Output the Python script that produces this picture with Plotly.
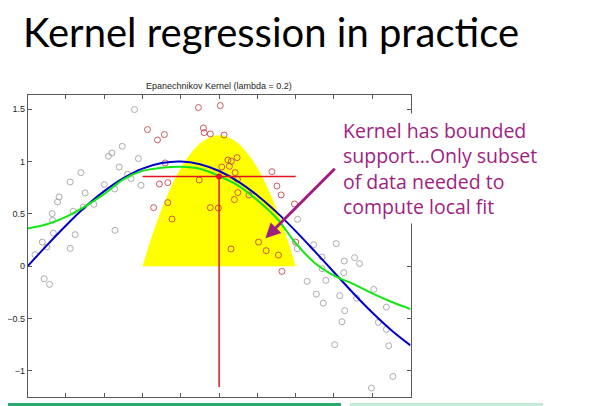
import plotly.graph_objects as go

# ---- data ----
gray_x = [0.019, 0.038, 0.05, 0.043, 0.057, 0.064, 0.065, 0.067, 0.078, 0.082, 0.111, 0.111,
          0.119, 0.124, 0.139, 0.145, 0.15, 0.173, 0.2, 0.211, 0.22, 0.227, 0.228, 0.239,
          0.247, 0.261, 0.27, 0.279, 0.289, 0.296,
          0.705, 0.704, 0.747, 0.806, 0.769, 0.769, 0.827, 0.854, 0.867, 0.826, 0.73, 0.779,
          0.754, 0.772, 0.815, 0.859, 0.904, 0.828, 0.821, 0.937, 0.916, 0.937, 0.943, 0.802,
          0.954, 0.898]
gray_y = [0.11, 0.23, 0.183, -0.12, -0.174, 0.502, 0.438, 0.316, 0.613, 0.661, 0.804, 0.17,
          0.524, 0.301, 0.894, 0.565, 0.699, 0.591, 0.779, 1.05, 1.081, 0.737, 0.342, 0.947,
          1.145, 0.878, 0.836, 1.496, 1.028, 0.772,
          0.447, 0.167, 0.205, 0.215, 0.087, -0.024, 0.049, 0.081, 0.024, -0.062, -0.145, -0.136,
          -0.267, -0.353, -0.282, -0.305, -0.222, -0.425, -0.531, -0.391, -0.537, -0.604, -0.76, -0.75,
          -1.054, -1.165]

red_x = [0.313, 0.339, 0.357, 0.329, 0.344, 0.366, 0.359, 0.366, 0.377, 0.446, 0.503, 0.459,
         0.461, 0.477, 0.513, 0.448, 0.477, 0.498, 0.507, 0.523, 0.532, 0.547, 0.527, 0.542,
         0.548, 0.549, 0.54, 0.578, 0.531, 0.603, 0.623, 0.655, 0.664, 0.638, 0.651, 0.662,
         0.697, 0.70]
red_y = [1.305, 1.206, 1.257, 0.559, 0.785, 0.798, 0.986, 0.607, 0.45, 1.515, 1.534, 1.32,
         1.276, 1.263, 1.253, 0.823, 0.559, 0.555, 0.948, 1.014, 1.002, 1.037, 0.954, 0.894,
         0.83, 0.703, 0.636, 0.68, 0.164, 0.23, 0.148, 0.106, -0.05, 0.903, 0.766, 0.68,
         0.594, 0.23]

curve_x = [0.0, 0.05, 0.1, 0.15, 0.2, 0.25, 0.3, 0.35, 0.4, 0.45, 0.5, 0.55, 0.6, 0.65,
           0.7, 0.75, 0.8, 0.85, 0.9, 0.95, 1.0]
true_y = [0.0, 0.199, 0.389, 0.565, 0.717, 0.841, 0.932, 0.985, 1.0, 0.974, 0.909, 0.808,
          0.675, 0.516, 0.335, 0.141, -0.058, -0.256, -0.443, -0.612, -0.757]
fit_y = [0.36, 0.40, 0.47, 0.57, 0.69, 0.83, 0.91, 0.94, 0.95, 0.93, 0.86, 0.77,
         0.63, 0.46, 0.22, 0.03, -0.09, -0.17, -0.26, -0.34, -0.41]

kernel_x = [0.3, 0.325, 0.35, 0.375, 0.4, 0.425, 0.45, 0.475, 0.5, 0.525, 0.55, 0.575,
            0.6, 0.625, 0.65, 0.675, 0.7]
kernel_y = [0.0, 0.293, 0.547, 0.762, 0.938, 1.074, 1.172, 1.23, 1.25, 1.23, 1.172, 1.074,
            0.938, 0.762, 0.547, 0.293, 0.0]

x0 = 0.5
fit_at_x0 = 0.857
window = [0.3, 0.7]
stem_bottom = -1.155

x_ticks = [0, 0.1, 0.2, 0.3, 0.4, 0.5, 0.6, 0.7, 0.8, 0.9, 1]
x_tick_labels = ["0", "0.1", "0.2", "0.3", "0.4", "0.5", "0.6", "0.7", "0.8", "0.9", "1"]
y_ticks = [-1, -0.5, 0, 0.5, 1, 1.5]
y_tick_labels = ["\u22121", "\u22120.5", "0", "0.5", "1", "1.5"]

title_text = "Kernel regression in practice"
plot_title = "Epanechnikov Kernel (lambda = 0.2)"
note_text = "Kernel has bounded<br>support\u2026Only subset<br>of data needed to<br>compute local fit"

purple = "rgb(160,30,128)"

# page body adds an 8px margin: the figure is sized so that the visible window is 600x406
W, H = 592, 398
OFF = 8


def px(xw):
    return (xw - OFF) / W


def py(yw):
    return 1 - (yw - OFF) / H


fig = go.Figure()

fig.add_trace(go.Scatter(x=kernel_x, y=kernel_y, mode="lines", line=dict(color="rgb(255,255,0)", width=0, shape="spline"),
                         fill="tozeroy", fillcolor="rgb(255,255,0)", hoverinfo="skip"))
fig.add_trace(go.Scatter(x=gray_x, y=gray_y, mode="markers",
                         marker=dict(symbol="circle-open", size=6, color="rgb(172,172,172)", line=dict(width=1))))
fig.add_trace(go.Scatter(x=red_x, y=red_y, mode="markers",
                         marker=dict(symbol="circle-open", size=6, color="rgba(200,60,70,0.85)", line=dict(width=1))))
fig.add_trace(go.Scatter(x=curve_x, y=true_y, mode="lines", line=dict(color="rgb(0,0,200)", width=2, shape="spline")))
fig.add_trace(go.Scatter(x=curve_x, y=fit_y, mode="lines", line=dict(color="rgb(20,230,20)", width=2, shape="spline")))
fig.add_trace(go.Scatter(x=window, y=[fit_at_x0, fit_at_x0], mode="lines", line=dict(color="rgb(225,20,30)", width=1.5)))
fig.add_trace(go.Scatter(x=[x0, x0], y=[fit_at_x0, stem_bottom], mode="lines", line=dict(color="rgb(225,20,30)", width=1.5)))
fig.add_trace(go.Scatter(x=[x0], y=[fit_at_x0], mode="markers", marker=dict(color="rgb(225,20,30)", size=6)))

axis_common = dict(showline=True, linecolor="rgb(90,90,90)", linewidth=1, mirror="allticks",
                   ticks="inside", ticklen=4, tickcolor="rgb(90,90,90)", showgrid=False, zeroline=False,
                   automargin=False,
                   tickfont=dict(family="Liberation Sans", size=9, color="rgb(40,40,40)"))

fig.update_layout(
    width=W, height=H, margin=dict(l=0, r=0, t=0, b=0),
    paper_bgcolor="white", plot_bgcolor="white", showlegend=False,
    xaxis=dict(range=[0, 1], domain=[px(27.7), px(410.5)], tickvals=x_ticks, ticktext=x_tick_labels,
               ticklabelstandoff=5, **axis_common),
    yaxis=dict(range=[-1.25, 1.635], domain=[py(397), py(95)], tickvals=y_ticks, ticktext=y_tick_labels, **axis_common),
)

fig.add_annotation(text=title_text, xref="paper", yref="paper", x=px(21), y=py(6),
                   xanchor="left", yanchor="top", showarrow=False,
                   font=dict(family="Lato", size=40, color="black"))
fig.add_annotation(text=plot_title, xref="paper", yref="paper", x=px(219.5), y=py(86),
                   xanchor="center", yanchor="middle", showarrow=False,
                   font=dict(family="Liberation Sans", size=9, color="rgb(30,30,30)"))
fig.add_annotation(text=note_text, xref="paper", yref="paper", x=px(339), y=py(113),
                   xanchor="left", yanchor="top", align="left", showarrow=False,
                   bgcolor="white", borderpad=3,
                   font=dict(family="Open Sans", size=19.5, color=purple))
fig.add_annotation(x=0.621, y=0.266, ax=0.806, ay=0.945, xref="x", yref="y", axref="x", ayref="y",
                   text="", showarrow=True, arrowhead=2, arrowsize=1, arrowwidth=3, arrowcolor=purple)

fig.add_shape(type="rect", xref="paper", yref="paper", x0=0, x1=px(341), y0=0, y1=3 / H,
              fillcolor="rgb(40,170,110)", line=dict(width=0), layer="above")
fig.add_shape(type="rect", xref="paper", yref="paper", x0=px(350), x1=px(543), y0=0, y1=3 / H,
              fillcolor="rgba(160,220,190,0.6)", line=dict(width=0), layer="above")

fig.write_html("out.html")
